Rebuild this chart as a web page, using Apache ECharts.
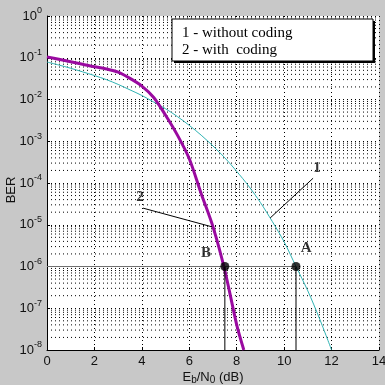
<!DOCTYPE html>
<html><head><meta charset="utf-8">
<script src="https://cdn.jsdelivr.net/npm/echarts@6/dist/echarts.min.js"></script>
<style>html,body{margin:0;padding:0;background:#c8c8c8}#c{width:385px;height:385px}</style>
</head><body><div id="c"></div>
<script>
// ---- data ----
var ebn0Uncoded = [0,0.5,1,1.5,2,2.5,3,3.5,4,4.5,5,5.5,6,6.5,7,7.5,8,8.5,9,9.5,10,10.5,11,11.5,12];
var berUncoded  = [0.079,0.067,0.056,0.046,0.0375,0.030,0.023,0.017,0.0125,0.0087,0.006,0.0039,0.0024,0.0014,0.00077,0.0004,0.00019,8.5e-5,3.4e-5,1.2e-5,3.9e-6,1.0e-6,2.6e-7,5.5e-8,1e-8];
var ebn0Coded = [0,0.5,1,1.5,2,2.5,3,3.5,4,4.5,5,5.5,6,6.5,7,7.5,8,8.3];
var berCoded  = [0.105,0.092,0.080,0.070,0.061,0.054,0.045,0.032,0.021,0.0112,0.0042,0.0014,3.8e-4,5.6e-5,8.9e-6,8.0e-7,4e-8,1e-8];
var xTicks = [0,2,4,6,8,10,12,14];
var berTarget = 1e-6;
var pointA = [10.5, 1e-6];
var pointB = [7.5, 1e-6];
var yAxisTitle = 'BER';
var legendLines = ['1 - without coding', '2 - with  coding'];
var annot2Line = [[4.05, 2.5e-5],[6.96, 8.9e-6]];
var annot1Line = [[11.22, 1.3e-4],[9.41, 1.45e-5]];
var annotLabels = [{t:'2', x:3.92, y:4.6e-5},{t:'B', x:6.71, y:2.1e-6},{t:'A', x:10.93, y:2.75e-6},{t:'1', x:11.39, y:2.3e-4}];

function zip(a,b){return a.map(function(v,i){return [v,b[i]];});}
// minor log grid lines (2..9 of each decade)
var minorGrid = [];
for (var e=-8; e<0; e++) for (var m=2; m<=9; m++) {
  var v = m*Math.pow(10,e);
  minorGrid.push([0,v]); minorGrid.push([14,v]); minorGrid.push('-');
}

var dotted = {color:'#000', width:1, type:[1,3]};
var chart = echarts.init(document.getElementById('c'), null, {renderer:'canvas'});
chart.setOption({
  backgroundColor:'#c8c8c8',
  animation:false,
  grid:{left:47,right:6,top:16,bottom:35,show:true,backgroundColor:'#fff',borderWidth:0,containLabel:false,outerBoundsMode:'none'},
  xAxis:{type:'value',min:0,max:14,interval:2,
    axisLine:{onZero:false,lineStyle:{color:'#000',width:1}},
    axisTick:{inside:true,length:3,lineStyle:{color:'#000'}},
    axisLabel:{color:'#111',fontFamily:'Liberation Sans, Arial',fontSize:13,margin:5},
    splitLine:{show:true,lineStyle:dotted},
    name:'{n|E}{s|b}{n|/N}{s|0}{n| (dB)}',nameLocation:'middle',nameGap:19,nameMoveOverlap:false,
    nameTextStyle:{rich:{n:{fontSize:13,color:'#111',fontFamily:'Liberation Sans, Arial'},s:{fontSize:10,color:'#111',fontFamily:'Liberation Sans, Arial',padding:[6,0,0,0]}}}
  },
  yAxis:{type:'log',logBase:10,min:1e-8,max:1,
    axisLine:{lineStyle:{color:'#000',width:1}},
    axisTick:{inside:true,length:3,lineStyle:{color:'#000'}},
    axisLabel:{margin:5,formatter:function(v){var e=Math.round(Math.log10(v));return '{b|10}{s|'+e+'}';},
      rich:{b:{fontSize:13,color:'#111',fontFamily:'Liberation Sans, Arial'},s:{fontSize:9,color:'#111',fontFamily:'Liberation Sans, Arial',padding:[0,0,10,0]}}},
    splitLine:{show:true,lineStyle:dotted}
  },
  graphic:[
    {type:'text',x:11,y:190,rotation:Math.PI/2,style:{text:yAxisTitle,font:'13px "Liberation Sans", Arial',fill:'#111',align:'center',verticalAlign:'middle'},z:102},
    {type:'rect',shape:{x:174,y:21,width:201,height:42},style:{fill:'#000'},z:100},
    {type:'rect',shape:{x:172,y:19,width:201,height:42},style:{fill:'#fff',stroke:'#000',lineWidth:1},z:101},
    {type:'text',left:182,top:26,style:{text:legendLines[0],font:'15px "Liberation Serif", "Times New Roman", serif',fill:'#000'},z:102},
    {type:'text',left:182,top:43,style:{text:legendLines[1],font:'15px "Liberation Serif", "Times New Roman", serif',fill:'#000'},z:102}
  ],
  series:[
    {type:'line',data:minorGrid,showSymbol:false,silent:true,connectNulls:false,lineStyle:dotted,z:1},
    {type:'line',data:zip(ebn0Uncoded,berUncoded),showSymbol:false,smooth:0.3,lineStyle:{color:'#2fb3b3',width:1},z:3},
    {type:'line',data:zip(ebn0Coded,berCoded),showSymbol:false,smooth:0.3,lineStyle:{color:'#9a0aa0',width:3},z:4},
    {type:'line',data:[[0,berTarget],pointA],showSymbol:false,lineStyle:{color:'#707070',width:1},z:5},
    {type:'line',data:[pointA,[pointA[0],1e-8]],showSymbol:false,lineStyle:{color:'#000',width:1},z:5},
    {type:'line',data:[pointB,[pointB[0],1e-8]],showSymbol:false,lineStyle:{color:'#000',width:1},z:5},
    {type:'line',data:annot2Line,showSymbol:false,lineStyle:{color:'#000',width:1},z:5},
    {type:'line',data:annot1Line,showSymbol:false,lineStyle:{color:'#000',width:1},z:5},
    {type:'scatter',data:[pointA,pointB],symbolSize:9,itemStyle:{color:'#000'},z:6},
    {type:'scatter',data:annotLabels.map(function(d){return {value:[d.x,d.y],label:{formatter:d.t}};}),symbolSize:0,
      label:{show:true,position:'inside',fontFamily:'Liberation Serif, Times New Roman, serif',fontWeight:'bold',fontSize:15,color:'#000'},z:7}
  ]
});
</script></body></html>
